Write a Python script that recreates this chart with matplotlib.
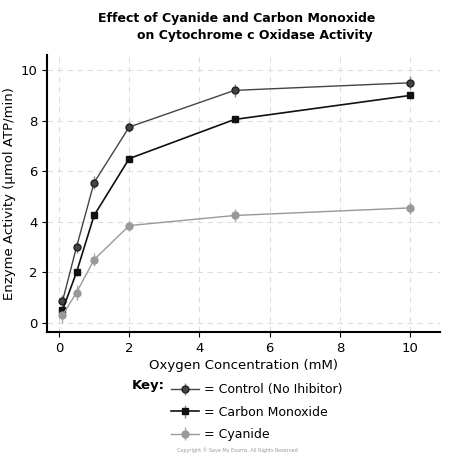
import matplotlib
matplotlib.use("Agg")
import matplotlib.pyplot as plt

x = [0.1, 0.5, 1, 2, 5, 10]
control = [0.85, 3.0, 5.55, 7.75, 9.2, 9.5]
carbon_monoxide = [0.5, 2.0, 4.25, 6.5, 8.05, 9.0]
cyanide = [0.3, 1.2, 2.5, 3.85, 4.25, 4.55]
err_control = [0.25, 0.25, 0.25, 0.2, 0.25, 0.25]
err_co = [0.15, 0.15, 0.15, 0.15, 0.15, 0.15]
err_cy = [0.3, 0.3, 0.25, 0.2, 0.25, 0.25]
labels = ["= Control (No Ihibitor)", "= Carbon Monoxide", "= Cyanide"]

fig = plt.figure(figsize=(4.74, 4.54), dpi=100)
ax = fig.add_axes([47/474, 1-332/454, 393/474, 277/454])

h1 = ax.errorbar(x, control, yerr=err_control, color="#444444", marker="o", ms=5, lw=1,
                 mfc="#444444", mec="#222222", ecolor="#888888", elinewidth=1)
h2 = ax.errorbar(x, carbon_monoxide, yerr=err_co, color="#111111", marker="s", ms=5, lw=1.2,
                 ecolor="#888888", elinewidth=1)
h3 = ax.errorbar(x, cyanide, yerr=err_cy, color="#999999", marker="o", ms=5, lw=1,
                 ecolor="#aaaaaa", elinewidth=1)

ax.set_xlim(-0.34, 10.85)
ax.set_ylim(-0.36, 10.6)
ax.set_xticks([0, 2, 4, 6, 8, 10])
ax.set_yticks([0, 2, 4, 6, 8, 10])
ax.grid(True, ls=(0, (5, 4)), color="#dddddd", lw=0.8)
ax.set_axisbelow(True)
for s in ["top", "right"]:
    ax.spines[s].set_visible(False)
for s in ["left", "bottom"]:
    ax.spines[s].set_linewidth(1.5)
ax.tick_params(labelsize=9.5)
ax.set_xlabel("Oxygen Concentration (mM)", fontsize=9.5, labelpad=3)
ax.set_ylabel("Enzyme Activity (μmol ATP/min)", fontsize=9.5, labelpad=3)
fig.text(0.5, 1-27/454, "Effect of Cyanide and Carbon Monoxide\n        on Cytochrome c Oxidase Activity",
         ha="center", va="center", fontsize=9, fontweight="bold", linespacing=1.4)

fig.text(132/474, 1-386/454, "Key:", fontsize=9.5, fontweight="bold", va="center")
fig.legend([h1, h2, h3], labels, loc="upper left", bbox_to_anchor=(165/474, 1-377/454),
           frameon=False, fontsize=9, handlelength=2.2, labelspacing=0.75, borderpad=0, handletextpad=0.4)
fig.text(0.5, 1-450/454, "Copyright © Save My Exams. All Rights Reserved", ha="center", va="center",
         fontsize=3.5, color="#999999")
fig.savefig("out.png", dpi=100)
